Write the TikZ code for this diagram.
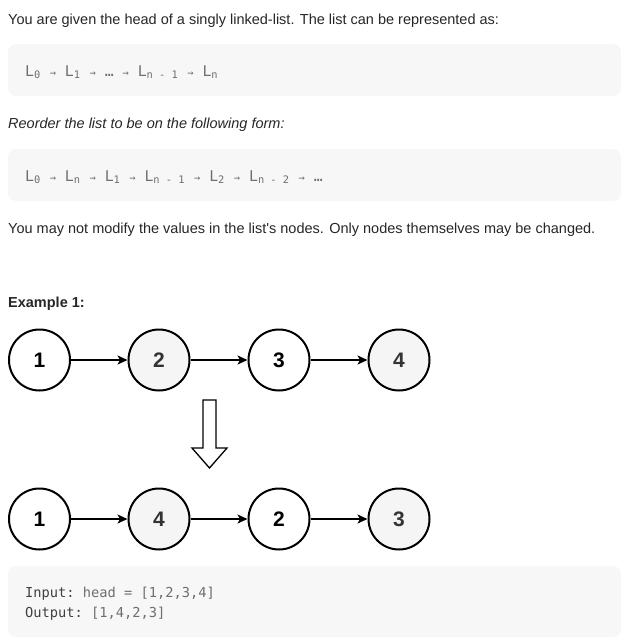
\documentclass[tikz,border=0pt]{standalone}
\usepackage{fontspec}
\setmainfont{Liberation Sans}[Ligatures=TeXOff]
\setmonofont{DejaVu Sans Mono}
\usetikzlibrary{arrows.meta}

\newlength{\du}
\setlength{\du}{1pt}

\definecolor{bodytext}{RGB}{38,38,38}
\definecolor{boxgray}{RGB}{247,247,248}
\definecolor{codegray}{RGB}{110,110,110}
\definecolor{codedark}{RGB}{64,64,64}
\definecolor{nodegray}{RGB}{245,245,245}
\definecolor{numgray}{RGB}{51,51,51}

\newcommand{\Lidx}[1]{L\textsubscript{#1}}
\newcommand{\tto}{{\fontsize{10.5}{10}\selectfont →}}

\tikzset{
  listnode/.style={circle, draw=black, line width=2\du, minimum size=61\du, inner sep=0pt,
    font=\fontsize{21}{21}\selectfont\bfseries},
  whitenode/.style={listnode, fill=white, text=black},
  graynode/.style={listnode, fill=nodegray, text=numgray},
  linkarrow/.style={draw=black, line width=1.5\du, -{Stealth[length=10pt,width=9pt,inset=2.5pt]}},
  codebox/.style={fill=boxgray, rounded corners=8\du},
  prose/.style={anchor=base west, inner sep=0pt, text=bodytext, font=\fontsize{14.5}{17}\selectfont},
  codeline/.style={anchor=base west, inner sep=0pt, text=codegray, font=\ttfamily\fontsize{14.8}{16}\selectfont},
}

\begin{document}
\begin{tikzpicture}
\pgftransformxscale{1.000000}
\pgftransformyscale{-1.000000}
\useasboundingbox (0\du,0\du) rectangle (630\du,643\du);
% statement
\node[prose] (intro) at (8\du,24\du){You are given the head of a singly linked-list. The list can be represented as:};
\fill[codebox] (8\du,44\du) rectangle (621\du,96\du);
\node[codeline] (form1) at (25\du,76\du){\Lidx{0} \tto{} \Lidx{1} \tto{} … \tto{} \Lidx{n - 1} \tto{} \Lidx{n}};
\node[prose, font=\fontsize{14.5}{17}\selectfont\itshape] (reorder) at (8\du,128\du){Reorder the list to be on the following form:};
\fill[codebox] (8\du,149\du) rectangle (621\du,201\du);
\node[codeline] (form2) at (25\du,181\du){\Lidx{0} \tto{} \Lidx{n} \tto{} \Lidx{1} \tto{} \Lidx{n - 1} \tto{} \Lidx{2} \tto{} \Lidx{n - 2} \tto{} …};
\node[prose] (note) at (8\du,233\du){You may not modify the values in the list's nodes. Only nodes themselves may be changed.};
\node[prose, font=\fontsize{14.5}{17}\selectfont\bfseries] (example) at (8\du,307\du){Example 1:};
% list before
\node[whitenode] (a1) at (39.5\du,360\du){1};
\node[graynode] (a2) at (159\du,360\du){2};
\node[whitenode] (a3) at (279\du,360\du){3};
\node[graynode] (a4) at (399\du,360\du){4};
\draw[linkarrow] (a1) -- (a2);
\draw[linkarrow] (a2) -- (a3);
\draw[linkarrow] (a3) -- (a4);
% hollow arrow
\draw[line width=1.3\du, fill=white] (203\du,400\du)--(216\du,400\du)--(216\du,448\du)--(227\du,448\du)--(209.5\du,468\du)--(192\du,448\du)--(203\du,448\du)--cycle;
% list after
\node[whitenode] (b1) at (39.5\du,519\du){1};
\node[graynode] (b2) at (159\du,519\du){4};
\node[whitenode] (b3) at (279\du,519\du){2};
\node[graynode] (b4) at (399\du,519\du){3};
\draw[linkarrow] (b1) -- (b2);
\draw[linkarrow] (b2) -- (b3);
\draw[linkarrow] (b3) -- (b4);
% io block
\fill[codebox] (8\du,566\du) rectangle (621\du,637\du);
\node[codeline, font=\ttfamily\fontsize{13.7}{16}\selectfont] (input) at (25\du,597\du){\textcolor{codedark}{Input:} head = [1,2,3,4]};
\node[codeline, font=\ttfamily\fontsize{13.7}{16}\selectfont] (output) at (25\du,617\du){\textcolor{codedark}{Output:} [1,4,2,3]};
\end{tikzpicture}
\end{document}
